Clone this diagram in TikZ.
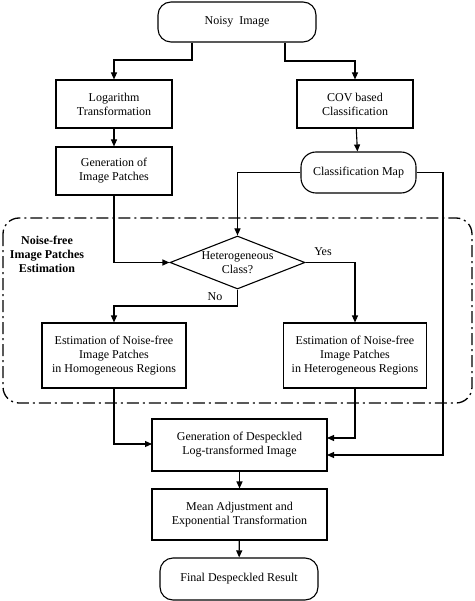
\documentclass[tikz,border=0pt]{standalone}
\usepackage{fontspec}
\setmainfont{Liberation Serif}
\usetikzlibrary{shapes.geometric,arrows.meta}
\tikzset{
  base/.style={draw, line width=1.1pt, align=center, inner sep=0pt, font=\fontsize{12}{14}\selectfont},
  procbox/.style={base, rectangle},
  termbox/.style={base, rectangle, rounded corners=13pt},
  decbox/.style={base, diamond, aspect=2.55},
  conn/.style={line width=1.1pt, -{Triangle[length=7pt,width=6pt]}},
  lbl/.style={inner sep=0pt, font=\fontsize{12}{14}\selectfont},
  region/.style={line width=1.3pt, rounded corners=16pt, dash pattern=on 12pt off 4pt on 2pt off 4pt}
}
\begin{document}
\begin{tikzpicture}[x=1pt,y=-1pt]
\useasboundingbox (0,0) rectangle (474,601);
\draw[region] (3,218) rectangle (472,403);
\node[lbl, font=\fontsize{12}{14}\selectfont\bfseries, align=center] (regionlbl) at (47,254) {Noise-free\\Image Patches\\Estimation};

\node[termbox, minimum width=158pt, minimum height=40pt] (noisy) at (237,22) {Noisy~ Image};
\node[procbox, minimum width=116pt, minimum height=48pt] (log) at (114,104) {Logarithm\\Transformation};
\node[procbox, minimum width=116pt, minimum height=48pt] (cov) at (355,104) {COV based\\Classification};
\node[procbox, minimum width=116pt, minimum height=48pt] (patch) at (114,171) {Generation of\\Image Patches};
\node[termbox, rounded corners=15pt, minimum width=115pt, minimum height=41pt] (cmap) at (358.5,172.5) {Classification Map};
\node[decbox, minimum width=135pt, minimum height=53pt] (dec) at (237.5,262.5) {Heterogeneous\\Class?};
\node[procbox, minimum width=144pt, minimum height=65pt] (homo) at (114,355.5) {Estimation of Noise-free\\Image Patches\\in Homogeneous Regions};
\node[procbox, minimum width=143pt, minimum height=65pt] (hetero) at (355,355.5) {Estimation of Noise-free\\Image Patches\\in Heterogeneous Regions};
\node[procbox, minimum width=175pt, minimum height=52pt] (gen) at (239.5,445) {Generation of Despeckled\\Log-transformed Image};
\node[procbox, minimum width=175pt, minimum height=51pt] (mean) at (239.5,514.5) {Mean Adjustment and\\Exponential Transformation};
\node[termbox, minimum width=158pt, minimum height=42pt] (final) at (239,579) {Final Despeckled Result};

\node[lbl] (yes) at (323,252) {Yes};
\node[lbl] (no) at (215,297) {No};

\coordinate (nl) at (192,60);
\coordinate (nr) at (285,61);
\draw[conn] (noisy.south -| nl) -- (nl) -| (log.north);
\draw[conn] (noisy.south -| nr) -- (nr) -| (cov.north);
\draw[conn] (log) -- (patch);
\draw[conn] (cov) -- (cmap);
\draw[conn] (cmap.west) -| (dec.north);
\draw[conn] (patch.south) |- (dec.west);
\draw[conn] (dec.east) -| (hetero.north);
\coordinate (nocorner) at (237.5,306);
\draw[conn] (dec.south) -- (nocorner) -| (homo.north);
\coordinate (hoin) at (152,444);
\coordinate (hein) at (327,438);
\coordinate (cmin) at (327,455);
\coordinate (cmright) at (443,172.5);
\draw[conn] (homo.south) |- (hoin);
\draw[conn] (hetero.south) |- (hein);
\draw[conn] (cmap.east) -- (cmright) |- (cmin);
\draw[conn] (gen) -- (mean);
\draw[conn] (mean) -- (final);
\end{tikzpicture}
\end{document}
